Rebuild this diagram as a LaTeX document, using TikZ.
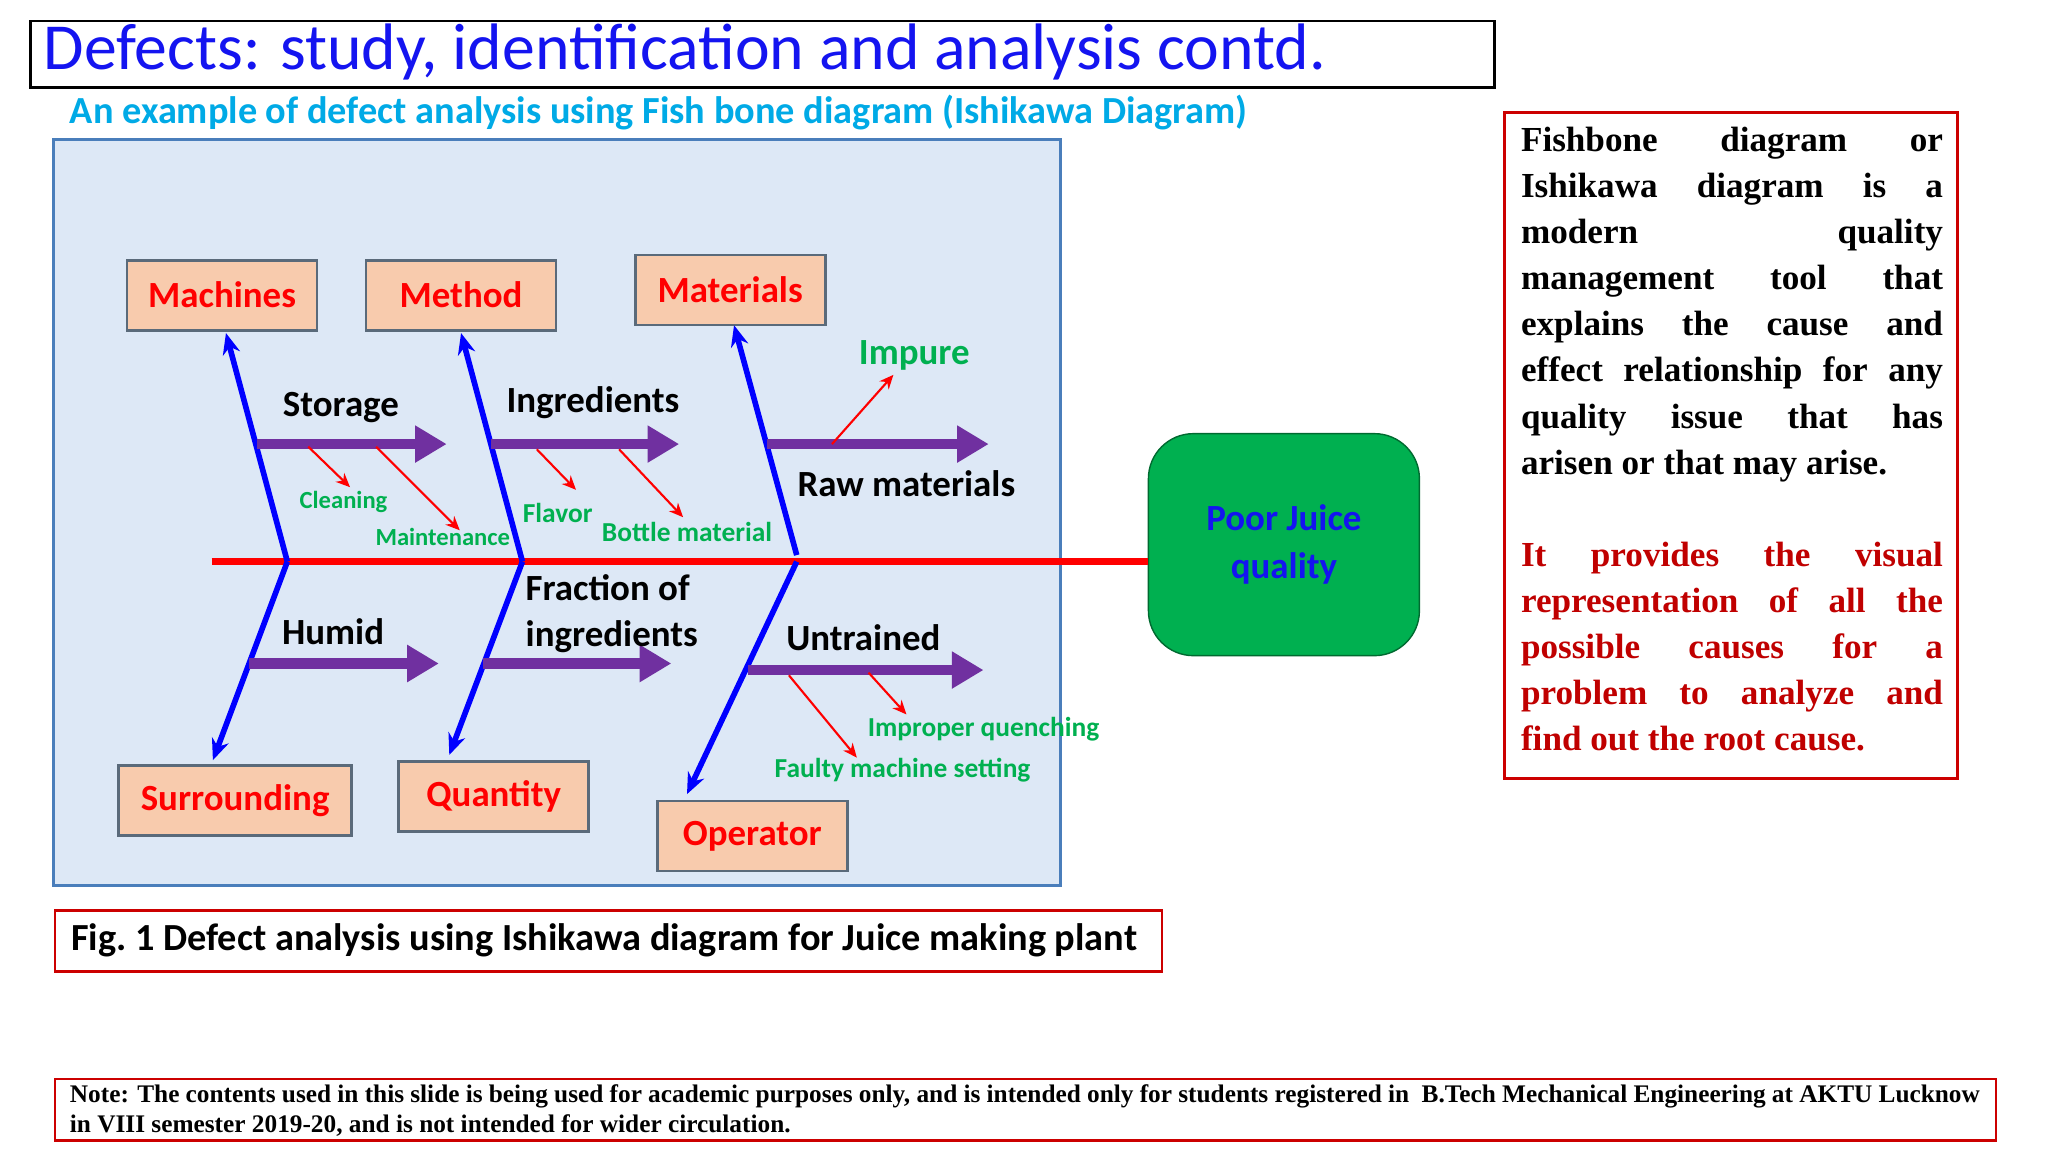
\documentclass[tikz,border=0pt]{standalone}
\usepackage{fontspec}
\setmainfont{Carlito}
\newfontfamily\serifb{Liberation Serif}
\usetikzlibrary{arrows.meta}
\newcommand\myNoHy{\hyphenpenalty10000\exhyphenpenalty10000\tolerance9999\relax}
\definecolor{ttl}{RGB}{20,20,240}
\definecolor{sub}{RGB}{0,170,230}
\definecolor{panel}{RGB}{221,232,246}
\definecolor{panelb}{RGB}{74,126,187}
\definecolor{gr}{RGB}{0,176,80}
\definecolor{pur}{RGB}{112,48,160}
\definecolor{boxf}{RGB}{248,203,173}
\definecolor{boxb}{RGB}{90,106,122}
\definecolor{dred}{RGB}{192,0,0}
\begin{document}
\begin{tikzpicture}[x=0.01306cm,y=-0.01306cm,
 cat/.style={draw=boxb,fill=boxf,line width=0.8pt,minimum width=1.9cm,minimum height=0.7cm,text=red,font=\fontsize{10.5}{12}\selectfont\bfseries},
 bone/.style={draw=blue,line width=1.6pt,-{Stealth[length=6pt,width=5pt]}},
 sub/.style={draw=pur,line width=3pt,-{Triangle[length=9pt,width=10pt]}},
 lab/.style={font=\fontsize{10.5}{12.5}\selectfont\bfseries},
 gl/.style={text=gr,font=\fontsize{7}{8}\selectfont\bfseries,inner sep=0pt},
 ra/.style={draw=red,line width=0.6pt,-{Stealth[length=4pt,width=3.5pt]}},
 rb/.style={draw=red,line width=0.8pt}]
\useasboundingbox (0,0) rectangle (1568,882);
\fill[white] (0,0) rectangle (1568,882);
\node[rb,draw=black,minimum width=14.64cm,minimum height=0.666cm,anchor=north west,inner sep=0pt] (tb) at (22,15) {};
\node[anchor=west,text=ttl,font=\fontsize{18.7}{22}\selectfont,inner sep=0pt] (title) at (33,40) {Defects: study, identification and analysis contd.};
\node[anchor=west,text=sub,font=\fontsize{10.9}{12}\selectfont\bfseries,inner sep=0pt] (st) at (53,86) {An example of defect analysis using Fish bone diagram (Ishikawa Diagram)};
\draw[panelb,fill=panel,line width=0.8pt] (41,107) rectangle (812,678);
\coordinate (s0) at (162,430);
\node[draw=gr!60!black,fill=gr,rounded corners=0.45cm,minimum width=2.71cm,minimum height=2.22cm,text=ttl,align=center,font=\fontsize{10.5}{13.5}\selectfont\bfseries] (head) at (983,417) {Poor Juice\\quality};
\draw[red,line width=2.2pt] (s0) -- (head.west|-s0);
\node[cat] (mach) at (170,226) {Machines};
\node[cat] (meth) at (353,226) {Method};
\node[cat] (mat) at (559,222) {Materials};
\node[cat,minimum width=2.33cm] (sur) at (180,613) {Surrounding};
\node[cat] (qty) at (378,610) {Quantity};
\node[cat] (op) at (576,640) {Operator};
\coordinate (j1) at (220,430); \coordinate (j2) at (400,430); \coordinate (j3) at (610,425); \coordinate (j3b) at (610,430);
\coordinate (m1) at (173,255); \coordinate (m2) at (353,255); \coordinate (m3) at (562,249);
\coordinate (n1) at (163,582); \coordinate (n2) at (344,578); \coordinate (n3) at (526,608);
\draw[bone] (j1) -- (m1); \draw[bone] (j1) -- (n1);
\draw[bone] (j2) -- (m2); \draw[bone] (j2) -- (n2);
\draw[bone] (j3) -- (m3); \draw[bone] (j3b) -- (n3);
\coordinate (a1) at (197,340); \coordinate (b1) at (342,340);
\coordinate (a2) at (376,340); \coordinate (b2) at (520,340);
\coordinate (a3) at (587,340); \coordinate (b3) at (757,340);
\coordinate (a4) at (191,508); \coordinate (b4) at (336,508);
\coordinate (a5) at (370,508); \coordinate (b5) at (514,508);
\coordinate (a6) at (573,513); \coordinate (b6) at (753,513);
\draw[sub] (a1)--(b1); \draw[sub] (a2)--(b2); \draw[sub] (a3)--(b3);
\draw[sub] (a4)--(b4); \draw[sub] (a5)--(b5); \draw[sub] (a6)--(b6);
\coordinate (r1) at (236,342); \coordinate (r1e) at (268,373);
\coordinate (r2) at (288,342); \coordinate (r2e) at (352,406);
\coordinate (r3) at (411,344); \coordinate (r3e) at (441,375);
\coordinate (r4) at (474,344); \coordinate (r4e) at (523,396);
\coordinate (r5) at (637,340); \coordinate (r5e) at (684,287);
\coordinate (r6) at (665,515); \coordinate (r6e) at (694,547);
\coordinate (r7) at (604,517); \coordinate (r7e) at (656,580);
\draw[ra] (r1)--(r1e); \draw[ra] (r2)--(r2e); \draw[ra] (r3)--(r3e); \draw[ra] (r4)--(r4e);
\draw[ra] (r5)--(r5e); \draw[ra] (r6)--(r6e); \draw[ra] (r7)--(r7e);
\node[lab] (l1) at (261,312) {Storage};
\node[lab] (l2) at (454,308) {Ingredients};
\node[lab] (l3) at (694,370) {Raw materials};
\node[lab] (l4) at (255,484) {Humid};
\node[lab,anchor=west,align=left,font=\fontsize{10.5}{13}\selectfont\bfseries] (l5) at (393,470) {Fraction of\\ingredients};
\node[lab] (l6) at (661,488) {Untrained};
\node[lab,text=gr] (g0) at (700,272) {Impure};
\node[gl] (g1) at (263,384) {Cleaning};
\node[gl] (g2) at (339,411) {Maintenance};
\node[gl,font=\fontsize{7.8}{9}\selectfont\bfseries] (g3) at (427,393) {Flavor};
\node[gl,font=\fontsize{7.8}{9}\selectfont\bfseries] (g4) at (526,407) {Bottle material};
\node[gl,font=\fontsize{7.8}{9}\selectfont\bfseries] (g5) at (753,558) {Improper quenching};
\node[gl,font=\fontsize{7.8}{9}\selectfont\bfseries] (g6) at (691,590) {Faulty machine setting};
\node[rb,draw=red!80!black,minimum width=11.07cm,minimum height=0.614cm,anchor=north west,inner sep=0pt] (fb) at (41,696) {};
\node[anchor=west,font=\fontsize{10.9}{12}\selectfont\bfseries,inner sep=0pt] (fig) at (54,720) {Fig.~1 Defect analysis using Ishikawa diagram for Juice making plant};
\node[rb,draw=red!80!black,minimum width=4.53cm,minimum height=6.66cm,anchor=north west,inner sep=0pt] (rbx) at (1151,85) {};
\node[anchor=north west,inner sep=0pt,text width=4.22cm,align=justify,font=\serifb\fontsize{10.0}{13.1}\selectfont\bfseries\myNoHy] (rt) at (1164,97) {\myNoHy Fishbone diagram or\linebreak Ishikawa diagram is a\linebreak modern quality\linebreak management tool that\linebreak explains the cause and\linebreak effect relationship for any\linebreak quality issue that has\linebreak arisen or that may arise.\par\vspace{13.1pt}\color{dred}\myNoHy It provides the visual\linebreak representation of all the\linebreak possible causes for a\linebreak problem to analyze and\linebreak find out the root cause.\myNoHy};
\node[rb,draw=red!80!black,minimum width=19.41cm,minimum height=0.614cm,anchor=north west,inner sep=0pt] (nb) at (41,825) {};
\node[anchor=north west,inner sep=0pt,text width=19.1cm,align=justify,font=\serifb\fontsize{7.2}{8.6}\selectfont\bfseries] (nt) at (53,830) {Note: The contents used in this slide is being used for academic purposes only, and is intended only for students registered in\ \ B.Tech Mechanical Engineering at AKTU Lucknow in VIII semester 2019-20, and is not intended for wider circulation.};
\end{tikzpicture}
\end{document}
